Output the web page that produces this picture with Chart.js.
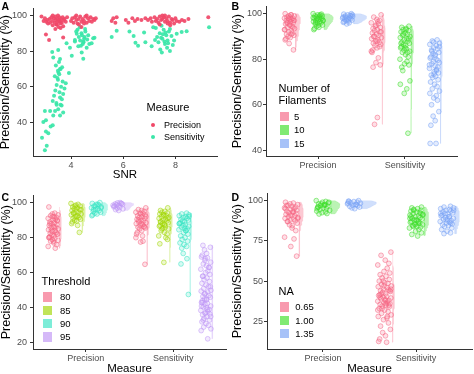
<!DOCTYPE html>
<html>
<head>
<meta charset="utf-8">
<script src="https://cdn.jsdelivr.net/npm/chart.js@4.4.0/dist/chart.umd.min.js"></script>
<style>
  body { margin: 0; background: #fff; width: 474px; height: 374px; position: relative; overflow: hidden;
         font-family: "Liberation Sans", Arial, Helvetica, sans-serif; }
  canvas { position: absolute; }
  .txt { position: absolute; white-space: nowrap; color: #000; }
  .box { position: absolute; }
</style>
</head>
<body>
<canvas id="chartA" width="237" height="187" style="left:0;top:0"></canvas>
<canvas id="chartB" width="245" height="187" style="left:229px;top:0"></canvas>
<canvas id="chartC" width="237" height="187" style="left:0;top:187px"></canvas>
<canvas id="chartD" width="245" height="187" style="left:229px;top:187px"></canvas>
<script>
// ---- data ----
const measures = ['Precision', 'Sensitivity'];
const filaments = ['5', '10', '15'];
const thresholds = ['80', '85', '90', '95'];
const naLevels = ['0.65', '1.00', '1.35'];

// panel A: SNR vs precision / sensitivity
const snrPrecision = [
  2.87,2.95,3.0,3.05,3.1,3.12,3.18,3.2,3.25,3.28,3.3,3.35,3.38,3.4,3.42,3.45,3.48,3.5,3.52,3.55,3.58,3.6,3.62,3.65,3.68,3.7,3.72,3.75,3.8,3.85,3.3,3.4,3.5,3.6,3.45,3.55,3.04,3.16,3.7,
  4.0,4.05,4.1,4.15,4.2,4.25,4.3,4.35,4.4,4.45,4.5,4.55,4.6,4.65,4.7,4.75,4.8,4.85,4.9,4.95,4.3,4.5,4.6,4.2,4.4,
  5.56,5.62,5.7,5.75,6.1,6.2,6.35,6.45,6.55,6.7,6.85,
  6.95,7.05,7.1,7.2,7.25,7.3,7.35,7.4,7.45,7.5,7.55,7.6,7.65,7.7,7.75,7.8,7.85,7.9,7.95,8.0,8.05,8.15,8.25,7.4,7.6,7.7,7.5,7.8,8.35,8.5,9.26
];
const precisionA = [
  99.5,97,98.5,96.5,97.5,95.5,98,96,99,97,94.5,98.5,96,99.5,97.5,95,98,96.5,93.5,99,97,95.5,98,96,99,94,97.5,98,96.5,99,100,92.5,100,93,95,97,89.3,86.3,87.7,
  97,98.5,96,99,97.5,95.5,98,99.5,96.5,98,97,99.5,96,98.5,97,99,96.5,98,97.5,98.5,95,95.5,100,100,93.5,
  97,98.5,96,99,97.5,96,98.5,97,98,97.5,98.5,
  97.5,98.5,96.5,99,97,98,96,99.5,97.5,98,99,96.5,98.5,97,99.5,96,98,97.5,95.5,98.5,97,96.5,97.5,95,100,95.5,100,94.5,97,98,99
];
const snrSensitivity = [
  3.0,3.07,2.89,3.13,3.04,3.22,3.3,2.94,3.04,3.32,3.58,3.0,3.2,3.39,3.51,3.7,3.45,3.64,
  3.3,3.35,3.4,3.45,3.5,3.55,3.6,3.65,3.7,3.75,3.8,3.42,3.48,3.52,3.56,3.62,3.68,3.38,3.5,3.58,3.66,3.44,3.54,3.6,
  3.92,3.58,3.32,3.58,3.28,3.51,3.96,4.03,3.83,4.15,
  4.34,4.54,4.22,4.66,4.85,4.15,4.47,4.28,4.6,4.79,4.41,4.47,4.3,4.35,4.4,4.45,4.5,4.55,4.38,4.42,4.48,4.52,4.25,4.62,4.7,4.2,4.9,
  5.56,5.75,6.24,6.4,6.47,6.57,6.8,6.85,
  7.15,7.47,7.79,8.05,8.24,8.43,7.42,7.68,7.79,7.48,7.22,7.09,7.3,7.35,7.4,7.5,7.55,7.6,7.65,7.7,7.75,7.85,7.9,7.45,7.58,7.62,7.72,7.52,7.25,7.95,
  9.29
];
const sensitivityA = [
  24.4,27,31.5,34,35,37.7,38.5,40.3,41.2,43.9,43.9,46.5,46.5,46.5,47.4,45.6,50,49.5,
  52,55,58,61,64,67,70,53,56,59,62,72,65,68,57,60,63,66,69,54,71,51,74,50,
  67.7,70,76.5,75.6,79.6,80.6,81.9,77.5,84.5,85.4,
  93.4,92.5,89.8,89,87.2,86.3,85.4,82.8,81.9,84.5,79.2,75.7,88,86,90,84,87,91,83,89,85,88,92,86.5,84,91,87.5,
  88,91.5,91,88.5,84.7,83,90.5,85,
  93.4,94.3,92.5,89.8,90.7,91.2,81,81.9,80.1,79.2,86.3,82.8,88,85,90,87,92,84,89,86,91,88.5,83.5,87.5,85.5,90.5,84.5,89.5,93,86,
  93.4
];

// panel B: number of filaments
const b5Precision = [100,99.5,99,99,98.5,98.5,98,98,97.5,97.5,97,97,96.5,96,96,95.5,95,94.5,94,93.5,93,92.5,92,91.5,91,90.5,90,89.5,89,88.5,99.5,98,97,96,95,94,93,91,86.9,84.1];
const b10Precision = [100,99.5,99.5,99,99,98.5,98.5,98,98,97.5,97.5,97,97,96.5,96.5,96,96,95.5,95,94.5,94,93.5,93,99,98,97,96,95,99.8,98.2];
const b15Precision = [100,99.8,99.5,99.2,99,98.8,98.5,98.2,98,97.8,97.5,97.2,97,96.8,96.5,96.2,96,95.5,99.5,98.5,97.5,99,98];
const b5Sensitivity = [99.5,98.5,97.5,97,96,95.5,95,94,93.5,93,92.5,92,91.5,91,90.5,90,89.5,89,88.5,88,87.5,87,86.5,86,85,84,83,96.5,94.5,92,90,88,85.5,83.5,80.6,78.5,77.5,76.5,54.4,51.4];
const b10Sensitivity = [94.5,94,93.5,93,92.5,92,91.5,91,90.5,90,89.5,89,88.5,88,87.5,87,86.5,86,85.5,85,84.5,84,83.5,83,82,81,80,79,78,77.5,76.5,93,91,89,87,85,83,75,70.5,69,67,65,47.5];
const b15Sensitivity = [88.5,88,87,86.5,86,85,84.5,84,83,82.5,82,81,80.5,80,79,78.5,78,77,76.5,76,75,74.5,74,73,72.5,72,71,70,69,68,67,66,65,64,63,62,60,57,55,53,51,43,43,87.5,85.5,83.5,81.5,79.5,77.5,75.5,73.5];

// panel C: threshold
const c80Precision = [97.5,94,93.5,93,92.5,92,91.5,91,90.5,90,89.5,89,88.5,88,87.5,87,86.5,86,85.5,85,84.5,84,83.5,83,82.5,82,81.5,81,80.5,80,79.5,79,78.5,78,77,76,75,74,92,90,88,86,84,82,80,78];
const c85Precision = [99.5,99,98.5,98,97.5,97,96.5,96,95.5,95,94.5,94,93.5,93,92.5,92,91.5,91,90.5,90,89.5,89,88,87,98,96,94,92,83];
const c90Precision = [100,99.5,99,98.5,98,97.5,97,96.5,96,95.5,95,94.5,94,93.5,93,92.5,99,98,97,96];
const c95Precision = [100,99.8,99.5,99.2,99,98.7,98.4,98,97.6,97.2,96.8,96.4,96,95.5,99.5,98.5];
const c80Sensitivity = [97,96,95.5,95,94.5,94,93.5,93,92.5,92,91.5,91,90.5,90,89.5,89,88.5,88,87.5,87,86.5,86,85.5,85,84,83,82,81,94,92,90,88,86,80,78,77.5,64.8];
const c85Sensitivity = [97,95.5,95,94.5,94,93.5,93,92.5,92,91.5,91,90.5,90,89.5,89,88.5,88,87.5,87,86.5,86,85.5,85,84,83,82,81,80,93,91,89,87,85,79,76.5,65.9];
const c90Sensitivity = [94,93.5,93,92.5,92,91.5,91,90.5,90,89.5,89,88.5,88,87.5,87,86.5,86,85.5,85,84.5,84,83,82,81,80,79,78,77,76,75,74,92,88,84,71,68,65,47.6];
const c95Sensitivity = [75.6,74.5,73,71,70,69,68.5,67,66,65,64,63,62,61,60,59,58,57,56,55,54,53,52,51,50,49.5,49,48,47,46.5,46,45,44.5,44,43,42.5,42,41,40.5,40,39,38.5,38,37,36.5,36,35,34,33,32,31,30,29,28,27,22.3,68,63,58,52,48,45,43,41,39,37,35,33];

// panel D: numerical aperture
const d065Precision = [99,98.5,98,97.5,97,96.5,96,95.5,95,94.5,94,93.5,93,92.5,92,91.5,91,90.5,90,89.5,89,88.5,88,87.5,87,86,85,84.5,97,95,93,91,89,87,83,81.4,77.3,76.2,71.5,65.5];
const d100Precision = [100,99.5,99,98.5,98,97.5,97,96.5,96,95.5,95,94.5,94,93.5,93,92.5,92,91.7,99,98,97,96,95,97.5];
const d135Precision = [100,99.7,99.4,99,98.7,98.4,98,97.6,97.2,96.8,96.4,96,95.5,95,99.5,98.5,97.5];
const d065Sensitivity = [68,66,63,61,60,58,56,55,54,53,52,51,50,49,48.5,48,47,46.5,46,45,44.5,44,43.5,43,42,41.5,41,40.5,40,39.5,39,38.5,38,37.5,37,36.5,36,35.5,35,34.5,34,33,32,31,30,29,28,27,26,24,22,20,18,16,14,12.5,12,50,45,42,38,35,32,28,47,44,40,36,33];
const d100Sensitivity = [96,95.5,95,94.5,94,93.5,93,92.5,92,91.5,91,90.5,90,89.5,89,88.5,88,87.5,87,86.5,86,85.5,85,84.5,84,83.5,83,82,81,80,79,78,94,92,90,88,86,84,91,89,87,85];
const d135Sensitivity = [96.5,96,95.5,95,94.5,94,93.5,93,92.5,92,91.5,91,90.5,90,89.5,89,88.5,88,87.5,87,86.5,86,85.5,85,84.5,84,83,82,81,80,79.5,94,92,90,88,86];

// ---- styling ----
const FONT = '"Liberation Sans", Arial, Helvetica, sans-serif';
const pink = [245, 100, 130], lime = [60, 222, 40], sky = [120, 162, 245];
const green85 = [160, 214, 0], teal90 = [55, 228, 195], violet95 = [190, 148, 245];
const rgba = (c, a) => `rgba(${c[0]},${c[1]},${c[2]},${a})`;

// fixed horizontal jitter offsets (fractions of half width)
const jitter = [-0.82,0.31,-0.17,0.93,-0.48,0.12,0.64,-0.95,0.4,-0.06,0.77,-0.61,0.22,-0.33,0.7,-0.74,0.03,0.52,-0.41,0.97,-0.88,0.36,-0.13,0.58,-0.55,0.85,-0.25,0.15,-0.68];

// kernel density for the half violins, trimmed to the data range
function profile(vals) {
  const n = vals.length;
  const mean = vals.reduce((a, b) => a + b, 0) / n;
  const sd = Math.sqrt(vals.reduce((a, b) => a + (b - mean) ** 2, 0) / (n - 1));
  const s = [...vals].sort((a, b) => a - b);
  const iqr = s[Math.floor(n * 0.75)] - s[Math.floor(n * 0.25)];
  const bw = 0.9 * Math.min(sd, iqr / 1.34 || sd) * Math.pow(n, -0.2);
  const lo = s[0], hi = s[n - 1];
  const y = [], d = [];
  for (let i = 0; i <= 40; i++) {
    const yy = lo + (hi - lo) * i / 40;
    let sum = 0;
    for (const v of vals) sum += Math.exp(-0.5 * ((yy - v) / bw) ** 2);
    y.push(yy);
    d.push(sum / (n * bw * Math.sqrt(2 * Math.PI)));
  }
  return { lo, hi, y, d };
}

function groupSets(levels, colors, offsets, halfW, maxW) {
  const prof = levels.map(pair => pair.map(profile));
  let maxD = 0;
  prof.forEach(pair => pair.forEach(p => { maxD = Math.max(maxD, ...p.d); }));
  const sets = [];
  levels.forEach((pair, g) => {
    pair.forEach((vals, m) => {
      const cx = m + 1 + offsets[g];
      const p = prof[g][m];
      const x0 = cx + halfW + 0.01;
      const poly = [{ x: x0, y: p.lo }];
      p.y.forEach((y, i) => poly.push({ x: x0 + p.d[i] / maxD * maxW, y }));
      poly.push({ x: x0, y: p.hi }, { x: x0, y: p.lo });
      sets.push({
        data: poly, showLine: true, fill: 'shape', tension: 0, pointRadius: 0,
        borderWidth: 0.4, borderColor: rgba(colors[g], 0.25), backgroundColor: rgba(colors[g], 0.35), order: 2
      });
      sets.push({
        data: vals.map((v, i) => ({ x: cx + jitter[(i + g * 7 + m * 3) % jitter.length] * halfW, y: v })),
        pointRadius: 2.4, borderWidth: 0.8, borderColor: rgba(colors[g], 0.65),
        backgroundColor: rgba(colors[g], 0.2), order: 1
      });
    });
  });
  return sets;
}

function makeChart(id, datasets, c) {
  return new Chart(document.getElementById(id), {
    type: 'scatter',
    data: { datasets },
    options: {
      responsive: false,
      animation: false,
      events: [],
      layout: { autoPadding: false, padding: { left: 0, right: c.padRight, top: c.padTop, bottom: 0 } },
      plugins: { legend: { display: false }, tooltip: { enabled: false } },
      scales: {
        x: {
          type: 'linear', min: c.xMin, max: c.xMax,
          afterFit: s => { s.height = c.xHeight; },
          border: { color: '#333', width: 1 },
          grid: { drawOnChartArea: false, drawTicks: true, tickLength: 3, color: '#333' },
          ticks: {
            stepSize: c.xStep, includeBounds: false, autoSkip: false, maxRotation: 0, padding: 1,
            color: '#4d4d4d', font: { family: FONT, size: 9 }, callback: c.xLabel
          },
          title: {
            display: !!c.xTitle, text: c.xTitle || '', color: '#000',
            font: { family: FONT, size: 11.5 }, padding: { top: 0, bottom: c.xTitlePad }
          }
        },
        y: {
          type: 'linear', min: c.yMin, max: c.yMax,
          afterFit: s => { s.width = c.yWidth; },
          border: { color: '#333', width: 1 },
          grid: { drawOnChartArea: false, drawTicks: true, tickLength: 3, color: '#333' },
          ticks: {
            stepSize: c.yStep, includeBounds: false, padding: c.yTickPad,
            color: '#4d4d4d', font: { family: FONT, size: 9 }
          },
          title: {
            display: true, text: 'Precision/Sensitivity (%)', color: '#000',
            font: { family: FONT, size: 12.5 }, padding: { top: c.yTitlePad, bottom: 0 }
          }
        }
      }
    }
  });
}

const measureLabel = v => measures[v - 1] || '';

// panel A
makeChart('chartA', [
  {
    data: snrPrecision.map((x, i) => ({ x, y: precisionA[i] })),
    pointRadius: 2, borderWidth: 0, backgroundColor: 'rgba(240,72,104,0.92)', order: 1
  },
  {
    data: snrSensitivity.map((x, i) => ({ x, y: sensitivityA[i] })),
    pointRadius: 2, borderWidth: 0, backgroundColor: 'rgba(58,230,168,0.92)', order: 2
  }
], { xMin: 2.544, xMax: 9.594, xStep: 2, yMin: 21.2, yMax: 104, yStep: 20, padRight: 20, padTop: 0,
     xHeight: 31, yWidth: 33, yTickPad: 3, yTitlePad: -1.5, xTitle: 'SNR', xTitlePad: 5 });

// panel B
makeChart('chartB', groupSets(
  [[b5Precision, b5Sensitivity], [b10Precision, b10Sensitivity], [b15Precision, b15Sensitivity]],
  [pink, lime, sky], [-0.33, 0, 0.34], 0.06, 0.15
), { xMin: 0.4, xMax: 2.6, xStep: 1, xLabel: measureLabel, yMin: 37.5, yMax: 103.2, yStep: 20,
     padRight: 17, padTop: 0, xHeight: 31, yWidth: 37, yTickPad: 1, yTitlePad: 1.5 });

// panel C
makeChart('chartC', groupSets(
  [[c80Precision, c80Sensitivity], [c85Precision, c85Sensitivity], [c90Precision, c90Sensitivity], [c95Precision, c95Sensitivity]],
  [pink, green85, teal90, violet95], [-0.37, -0.11, 0.12, 0.37], 0.06, 0.11
), { xMin: 0.4, xMax: 2.6, xStep: 1, xLabel: measureLabel, yMin: 16.5, yMax: 104.1, yStep: 20,
     padRight: 11, padTop: 6, xHeight: 25, yWidth: 33, yTickPad: 3, yTitlePad: -1, xTitle: 'Measure', xTitlePad: -1.6 });

// panel D
makeChart('chartD', groupSets(
  [[d065Precision, d065Sensitivity], [d100Precision, d100Sensitivity], [d135Precision, d135Sensitivity]],
  [pink, lime, sky], [-0.34, 0, 0.33], 0.075, 0.16
), { xMin: 0.4, xMax: 2.6, xStep: 1, xLabel: measureLabel, yMin: 7.8, yMax: 104.5, yStep: 25,
     padRight: 2, padTop: 6, xHeight: 25, yWidth: 38, yTickPad: 1, yTitlePad: 1.5, xTitle: 'Measure', xTitlePad: -1.6 });

// ---- legends and panel tags (HTML text) ----
function addText(text, left, cy, size, bold) {
  const d = document.createElement('div');
  d.className = 'txt';
  d.textContent = text;
  d.style.left = left + 'px';
  d.style.top = (cy - size * 0.6) + 'px';
  d.style.fontSize = size + 'px';
  d.style.lineHeight = (size * 1.2) + 'px';
  if (bold) d.style.fontWeight = 'bold';
  document.body.appendChild(d);
}
function addBox(left, top, size, color, round) {
  const d = document.createElement('div');
  d.className = 'box';
  Object.assign(d.style, { left: left + 'px', top: top + 'px', width: size + 'px', height: size + 'px',
    background: color, borderRadius: round ? '50%' : '0' });
  document.body.appendChild(d);
}

// A
addText('Measure', 146.5, 108, 11);
[['Precision', 'rgb(240,72,104)'], ['Sensitivity', 'rgb(58,230,168)']].forEach(([t, col], i) => {
  addBox(151, 123 + i * 12, 4, col, true);
  addText(t, 164, 125 + i * 12, 9);
});
// B
addText('Number of', 278.5, 88.5, 11);
addText('Filaments', 278.5, 100.5, 11);
filaments.forEach((t, i) => {
  addBox(279.5, 112 + i * 13.3, 9.3, rgba([pink, lime, sky][i], 0.65));
  addText(t, 294, 116.6 + i * 13.3, 9.5);
});
// C
addText('Threshold', 41.5, 281.3, 11);
thresholds.forEach((t, i) => {
  addBox(42.5, 292.4 + i * 13.3, 9.3, rgba([pink, green85, teal90, violet95][i], 0.65));
  addText(t, 60, 297 + i * 13.3, 9.5);
});
// D
addText('NA', 278.5, 291.3, 11);
naLevels.forEach((t, i) => {
  addBox(279.5, 302.4 + i * 13.3, 9.3, rgba([pink, lime, sky][i], 0.65));
  addText(t, 295.3, 307 + i * 13.3, 9.5);
});
// tags
addText('A', 1.5, 6, 10.5, true);
addText('B', 231.5, 6, 10.5, true);
addText('C', 1.5, 197.5, 10.5, true);
addText('D', 231.5, 197.5, 10.5, true);
</script>
</body>
</html>
